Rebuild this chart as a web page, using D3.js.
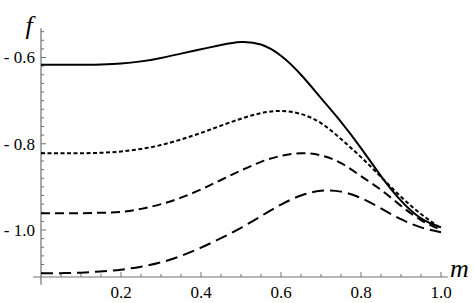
<!DOCTYPE html>
<html>
<head>
<meta charset="utf-8">
<script src="https://cdn.jsdelivr.net/npm/d3@7"></script>
<style>
  body { margin: 0; background: #fff; }
  svg { display: block; }
</style>
</head>
<body>
<svg id="chart"></svg>
<script>
// sample points along m
const mValues = [0, 0.05, 0.1, 0.15, 0.2, 0.25, 0.3, 0.35, 0.4, 0.45, 0.5,
                 0.55, 0.6, 0.65, 0.7, 0.75, 0.8, 0.85, 0.9, 0.95, 1.0];

// f(m) for each curve
const fSolid = [-0.617, -0.617, -0.617, -0.616, -0.614, -0.609, -0.601, -0.591, -0.581, -0.571, -0.564,
                -0.570, -0.596, -0.640, -0.694, -0.749, -0.810, -0.875, -0.932, -0.973, -0.994];
const fDotted = [-0.822, -0.822, -0.822, -0.821, -0.818, -0.812, -0.803, -0.790, -0.775, -0.758, -0.742,
                 -0.729, -0.724, -0.731, -0.752, -0.789, -0.831, -0.877, -0.923, -0.963, -0.996];
const fDashed = [-0.961, -0.961, -0.961, -0.960, -0.958, -0.951, -0.940, -0.925, -0.906, -0.884, -0.862,
                 -0.842, -0.828, -0.822, -0.827, -0.845, -0.875, -0.907, -0.944, -0.977, -1.000];
const fLongDashed = [-1.100, -1.100, -1.099, -1.096, -1.092, -1.085, -1.075, -1.060, -1.041, -1.019, -0.995,
                     -0.968, -0.941, -0.920, -0.909, -0.911, -0.926, -0.950, -0.975, -0.994, -1.005];

const xTickValues = [0.2, 0.4, 0.6, 0.8, 1.0];
const yTickValues = [-1.0, -0.8, -0.6];

const width = 474, height = 303;
const serif = "'Liberation Serif', 'DejaVu Serif', serif";
const svg = d3.select("#chart").attr("width", width).attr("height", height);

const x = d3.scaleLinear().domain([0, 1]).range([41, 441]);
const y = d3.scaleLinear().domain([-1.0, -0.6]).range([230, 57.5]);

const axisColor = "#707070";
const x0 = x(0), y0 = y(-1.109);

// axis lines
svg.append("line")
    .attr("x1", x(-0.02)).attr("x2", x(1.017))
    .attr("y1", y0).attr("y2", y0)
    .attr("stroke", axisColor).attr("stroke-width", 1.2);
svg.append("line")
    .attr("x1", x0).attr("x2", x0)
    .attr("y1", y(-1.127)).attr("y2", y(-0.532))
    .attr("stroke", axisColor).attr("stroke-width", 1.2);

// x ticks (point up from the axis)
const xMinor = d3.range(0.05, 1.001, 0.05);
svg.append("g").selectAll("line")
    .data(xMinor)
    .join("line")
    .attr("x1", d => x(d)).attr("x2", d => x(d))
    .attr("y1", y0)
    .attr("y2", d => y0 - (Math.abs(d * 5 - Math.round(d * 5)) < 1e-6 ? 5 : 3))
    .attr("stroke", axisColor).attr("stroke-width", 1);

svg.append("g").selectAll("text")
    .data(xTickValues)
    .join("text")
    .attr("x", d => x(d))
    .attr("y", 298)
    .attr("text-anchor", "middle")
    .attr("font-family", serif)
    .attr("font-size", 17)
    .text(d => d3.format(".1f")(d));

// y ticks (point right from the axis)
const yMinor = d3.range(-1.10, -0.539, 0.02);
svg.append("g").selectAll("line")
    .data(yMinor)
    .join("line")
    .attr("x1", x0)
    .attr("x2", d => x0 + (Math.abs(d * 5 - Math.round(d * 5)) < 1e-6 ? 5 : 3))
    .attr("y1", d => y(d)).attr("y2", d => y(d))
    .attr("stroke", axisColor).attr("stroke-width", 1);

svg.append("g").selectAll("text")
    .data(yTickValues)
    .join("text")
    .attr("x", 35)
    .attr("y", d => y(d))
    .attr("dy", "0.35em")
    .attr("text-anchor", "end")
    .attr("font-family", serif)
    .attr("font-size", 17)
    .text(d => "- " + d3.format(".1f")(Math.abs(d)));

// axis labels
svg.append("text")
    .attr("x", 29).attr("y", 34)
    .attr("text-anchor", "middle")
    .attr("font-family", serif)
    .attr("font-size", 26)
    .attr("font-style", "italic")
    .text("f");
svg.append("text")
    .attr("x", 450).attr("y", 277)
    .attr("font-family", serif)
    .attr("font-size", 26)
    .attr("font-style", "italic")
    .text("m");

// curves
const series = [
    { values: fSolid, dash: null },
    { values: fDotted, dash: "4,2.5" },
    { values: fDashed, dash: "9,5" },
    { values: fLongDashed, dash: "12,6" }
];

const line = d3.line()
    .x((d, i) => x(mValues[i]))
    .y(d => y(d))
    .curve(d3.curveNatural);

svg.append("g").selectAll("path")
    .data(series)
    .join("path")
    .attr("d", d => line(d.values))
    .attr("fill", "none")
    .attr("stroke", "#000")
    .attr("stroke-width", 2)
    .attr("stroke-dasharray", d => d.dash);
</script>
</body>
</html>
